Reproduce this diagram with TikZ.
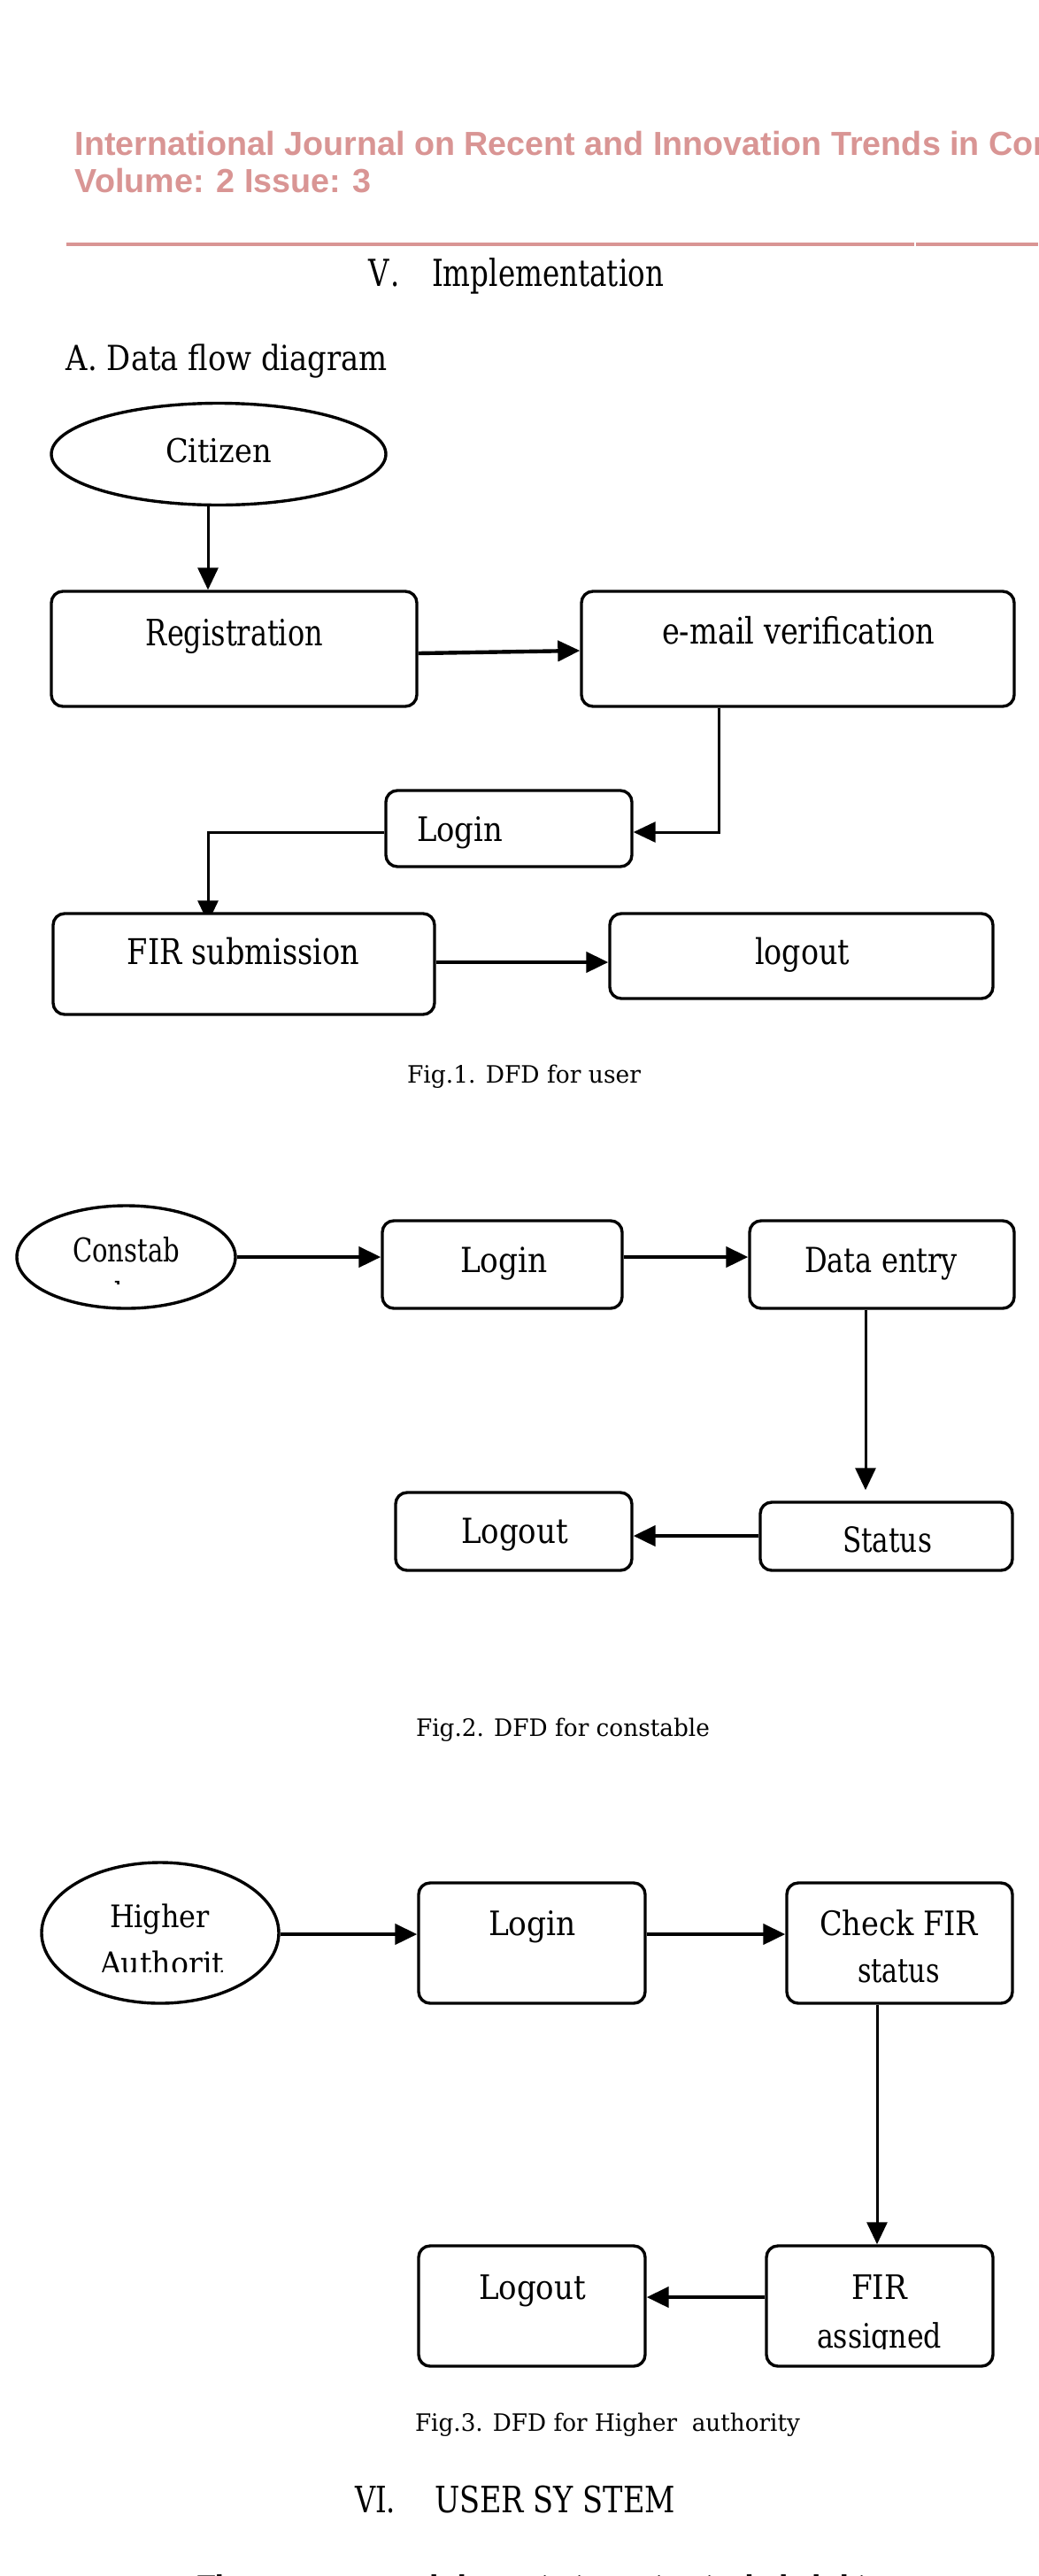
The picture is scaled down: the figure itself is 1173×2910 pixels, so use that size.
\documentclass[tikz,border=0pt]{standalone}
\usepackage{fontspec}
\usepackage{graphicx}
\setmainfont{DejaVu Serif}
\newfontfamily\headfont{Liberation Sans}
\usetikzlibrary{shapes.geometric,arrows.meta}
\pgfdeclarelayer{bg}
\pgfsetlayers{bg,main}
\definecolor{headpink}{RGB}{217,149,148}
\newcommand\tw[3]{{\fontsize{#1}{#1}\selectfont\resizebox{#2}{\height}{#3}}}
\tikzset{
  box/.style={draw, line width=3.4pt, rounded corners=13pt, fill=white, inner sep=0pt},
  ell/.style={draw, ellipse, line width=3.4pt, fill=white, inner sep=0pt},
  lab/.style={anchor=base, inner sep=0pt, outer sep=0pt},
  head/.style={anchor=base west, inner sep=0pt, text=headpink, font=\headfont\bfseries\fontsize{37.7pt}{37.7pt}\selectfont},
  flow/.style={line width=4.4pt, -{Triangle[length=25pt,width=23pt]}},
  vflow/.style={line width=3pt, -{Triangle[length=25pt,width=23pt]}},
}
\begin{document}
\begin{tikzpicture}[x=1pt,y=-1pt]
\useasboundingbox (0,0) rectangle (1173,2910);
\begin{pgfonlayer}{bg}
\fill[white] (0,0) rectangle (1173,2910);
\end{pgfonlayer}
\clip (0,0) rectangle (1173,2910);

% header
\node[head] (h1) at (84.5,175) {International Journal on Recent and Innovation Trends in Computing and Communication};
\node[head] (h2) at (84.5,217) {Volume: 2 Issue: 3};
\draw[headpink, line width=3.5pt] (75,276) -- (1033,276);
\draw[headpink, line width=3.5pt] (1035,276) -- (1173,276);
\node[lab] (secV) at (434,323) {\tw{42pt}{36pt}{V\kern3pt.}};
\node[lab] (secVt) at (619,323) {\tw{42pt}{262pt}{Implementation}};
\node[lab] (subA) at (256.5,418) {\tw{39pt}{363pt}{A. Data flow diagram}};

% Fig 1
\node[ell, minimum width=378pt, minimum height=115pt] (citizen) at (247,513) {};
\node[lab] (tcit) at (247,522) {\tw{37pt}{120pt}{Citizen}};
\node[box, minimum width=413pt, minimum height=130pt] (reg) at (264.5,733) {};
\node[lab] (treg) at (265,729) {\tw{41pt}{200pt}{Registration}};
\node[box, minimum width=489pt, minimum height=130pt] (email) at (901.5,733) {};
\node[lab] (temail) at (902,727) {\tw{41pt}{308pt}{e-mail verification}};
\node[box, minimum width=278pt, minimum height=86pt] (login1) at (575,936) {};
\node[lab] (tlogin1) at (519.5,950) {\tw{38pt}{97pt}{Login}};
\node[box, minimum width=431pt, minimum height=114pt] (fir) at (275.5,1089) {};
\node[lab] (tfir) at (275,1089) {\tw{40pt}{262pt}{FIR submission}};
\node[box, minimum width=433pt, minimum height=96pt] (logout1) at (905.5,1080) {};
\node[lab] (tlogout1) at (906.5,1089) {\tw{40pt}{107pt}{logout}};
\node[lab] (cap1) at (592,1223) {\tw{27pt}{264pt}{Fig.1. DFD for user}};

\begin{pgfonlayer}{bg}
\draw[vflow] ([xshift=-12pt]citizen.south) -- ([xshift=-29.5pt]reg.north);
\draw[flow] ([yshift=-5pt]reg.east) -- ([yshift=-2pt]email.west);
\draw[vflow] ([xshift=-89.5pt]email.south) |- ([yshift=-4pt]login1.east);
\draw[vflow] ([yshift=-4pt]login1.west) -| ([xshift=-40.5pt,yshift=-12pt]fir.north);
\draw[flow] ([yshift=2pt]fir.east) -- ([yshift=-7pt]logout1.west);
\end{pgfonlayer}

% Fig 2
\node[ell, minimum width=247pt, minimum height=116pt] (const) at (142.5,1420) {};
\node[lab] (tconst) at (142.5,1425) {\tw{37pt}{121pt}{Constab}};
\begin{scope}
\clip (100,1440) rectangle (185,1450);
\node[lab] (tconst2) at (142.5,1475) {\tw{37pt}{26pt}{le}};
\end{scope}
\node[box, minimum width=271pt, minimum height=99pt] (login2) at (567.5,1428.5) {};
\node[lab] (tlogin2) at (569.5,1437) {\tw{39pt}{99pt}{Login}};
\node[box, minimum width=299pt, minimum height=99pt] (data) at (996.5,1428.5) {};
\node[lab] (tdata) at (995.5,1437) {\tw{39pt}{173pt}{Data entry}};
\node[box, minimum width=285pt, minimum height=77pt] (status) at (1001.5,1735.5) {};
\node[lab] (tstatus) at (1002.5,1753) {\tw{39pt}{101pt}{Status}};
\node[box, minimum width=267pt, minimum height=88pt] (logout2) at (580.5,1730) {};
\node[lab] (tlogout2) at (581.5,1743) {\tw{39pt}{121pt}{Logout}};
\node[lab] (cap2) at (636,1961) {\tw{27pt}{332pt}{Fig.2. DFD for constable}};

\begin{pgfonlayer}{bg}
\draw[flow] (const.east) -- ([yshift=8.5pt]login2.west);
\draw[flow] ([yshift=8.5pt]login2.east) -- ([yshift=8.5pt]data.west);
\draw[vflow] ([xshift=-18.5pt]data.south) -- ([xshift=-23.5pt,yshift=12pt]status.north);
\draw[flow] ([yshift=0.5pt]status.west) -- ([yshift=-5pt]logout2.east);
\end{pgfonlayer}

% Fig 3
\node[ell, minimum width=268pt, minimum height=159pt] (higher) at (181,2183.5) {};
\node[lab] (thigher) at (180.5,2177) {\tw{35pt}{113pt}{Higher}};
\begin{scope}
\clip (100,2190) rectangle (257,2227);
\node[lab] (thigher2) at (183,2230) {\tw{35pt}{140pt}{Authorit}};
\end{scope}
\node[box, minimum width=256pt, minimum height=136pt] (login3) at (601,2195) {};
\node[lab] (tlogin3) at (601.5,2186) {\tw{38pt}{99pt}{Login}};
\node[box, minimum width=255pt, minimum height=136pt] (check) at (1016.5,2195) {};
\node[lab] (tcheck) at (1015.5,2186) {\tw{38pt}{179pt}{Check FIR}};
\node[lab] (tcheck2) at (1015.5,2239) {\tw{38pt}{93pt}{status}};
\node[box, minimum width=256pt, minimum height=136pt] (firass) at (994,2605) {};
\node[lab] (tfirass) at (993.5,2597) {\tw{38pt}{63pt}{FIR}};
\begin{scope}
\clip (900,2610) rectangle (1090,2653);
\node[lab] (tfirass2) at (993.5,2652) {\tw{38pt}{141pt}{assigned}};
\end{scope}
\node[box, minimum width=256pt, minimum height=136pt] (logout3) at (601,2605) {};
\node[lab] (tlogout3) at (601.5,2597) {\tw{38pt}{121pt}{Logout}};
\node[lab] (cap3) at (686.5,2746) {\tw{27pt}{435pt}{Fig.3. DFD for Higher\ \ authority}};

\begin{pgfonlayer}{bg}
\draw[flow] ([yshift=-1.5pt]higher.east) -- ([yshift=10pt]login3.west);
\draw[flow] ([yshift=10pt]login3.east) -- ([yshift=10pt]check.west);
\draw[vflow] ([xshift=-25.5pt]check.south) -- ([xshift=-3pt]firass.north);
\draw[flow] ([yshift=10pt]firass.west) -- ([yshift=10pt]logout3.east);
\end{pgfonlayer}

% section VI
\node[lab] (secVI) at (424,2838) {\tw{41pt}{46pt}{VI.}};
\node[lab] (secVIt) at (627,2838) {\tw{41pt}{272pt}{USER SY STEM}};
\node[lab] (para) at (609.5,2940) {\tw{42pt}{771pt}{The parent stated the main intention included this}};
\end{tikzpicture}
\end{document}
